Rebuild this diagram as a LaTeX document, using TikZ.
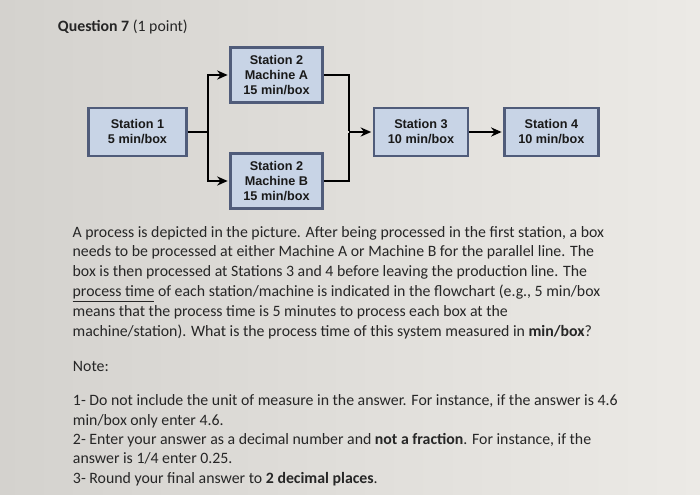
\documentclass[tikz,border=0pt]{standalone}
\usepackage{fontspec}
\setmainfont{Carlito}
\newfontfamily\boxfont{Liberation Sans}
\usetikzlibrary{positioning,arrows.meta}

\definecolor{boxfill}{RGB}{200,212,230}
\definecolor{boxline}{RGB}{80,92,122}
\definecolor{ink}{RGB}{38,38,38}
\definecolor{paperL}{RGB}{212,210,206}
\definecolor{paperR}{RGB}{236,234,230}

\begin{document}
\begin{tikzpicture}[
        x = 0.025cm, % one pixel of the screenshot
        y = -0.025cm, % y grows downwards
        > = {Stealth[length=7.5pt,width=6.5pt]}, % arrow head style
        shorten > = 1pt, % don't touch arrow head to node
        line width = 1.4pt % connector style
      ]

      \tikzstyle{station}=[rectangle,draw=boxline,fill=boxfill,line width=2pt,
        align=center,inner sep=0pt,minimum width=2.35cm,minimum height=1.2cm,
        font=\boxfont\bfseries\fontsize{9}{10.7}\selectfont,text=black!90]
      \tikzstyle{line}=[anchor=base west,inner sep=0pt,text=ink,
        font=\fontsize{11.25}{13}\selectfont]

      \shade[left color=paperL,right color=paperR] (0,0) rectangle (700,495);

      \node[line] (q) at (57,31.7) {\textbf{Question 7} (1 point)};

      \node[station,minimum width=2.45cm] (st1) at (137.5,132) {Station 1\\5 min/box};
      \node[station,minimum width=2.3cm,minimum height=1.38cm] (ma) at (276.5,75) {Station 2\\Machine A\\15 min/box};
      \node[station,minimum width=2.3cm,minimum height=1.38cm] (mb) at (276.5,181) {Station 2\\Machine B\\15 min/box};
      \node[station] (st3) at (421,132) {Station 3\\10 min/box};
      \node[station] (st4) [right of=st3, node distance=3.26cm] {Station 4\\10 min/box};

      \coordinate (split) at (208,132);
      \coordinate (merge) at (349,132);

      \draw (st1) -- (split);
      \draw[->] (split) |- (ma);
      \draw[->] (split) |- (mb);
      \draw (ma) -| (merge);
      \draw (mb) -| (merge);
      \draw[->] (merge) -- (st3);
      \draw[->] (st3) -- (st4);

      \node[line] (p1) at (71.7,237.3) {A process is depicted in the picture. After being processed in the first station, a box};
      \node[line] (p2) at (71.7,256.7) {needs to be processed at either Machine A or Machine B for the parallel line. The};
      \node[line] (p3) at (71.7,276.7) {box is then processed at Stations 3 and 4 before leaving the production line. The};
      \node[line] (p4) at (71.7,296.7) {\underline{process time} of each station/machine is indicated in the flowchart (e.g., 5 min/box};
      \node[line] (p5) at (71.7,316.7) {means that the process time is 5 minutes to process each box at the};
      \node[line] (p6) at (71.7,336.7) {machine/station). What is the process time of this system measured in \textbf{min/box}?};

      \node[line] (note) at (72,371.7) {Note:};
      \node[line] (n1) at (72,405) {1- Do not include the unit of measure in the answer. For instance, if the answer is 4.6};
      \node[line] (n2) at (72,425) {min/box only enter 4.6.};
      \node[line] (n3) at (72,444) {2- Enter your answer as a decimal number and \textbf{not a fraction}. For instance, if the};
      \node[line] (n4) at (72,463) {answer is 1/4 enter 0.25.};
      \node[line] (n5) at (72,483) {3- Round your final answer to \textbf{2 decimal places}.};

    \end{tikzpicture}
\end{document}
